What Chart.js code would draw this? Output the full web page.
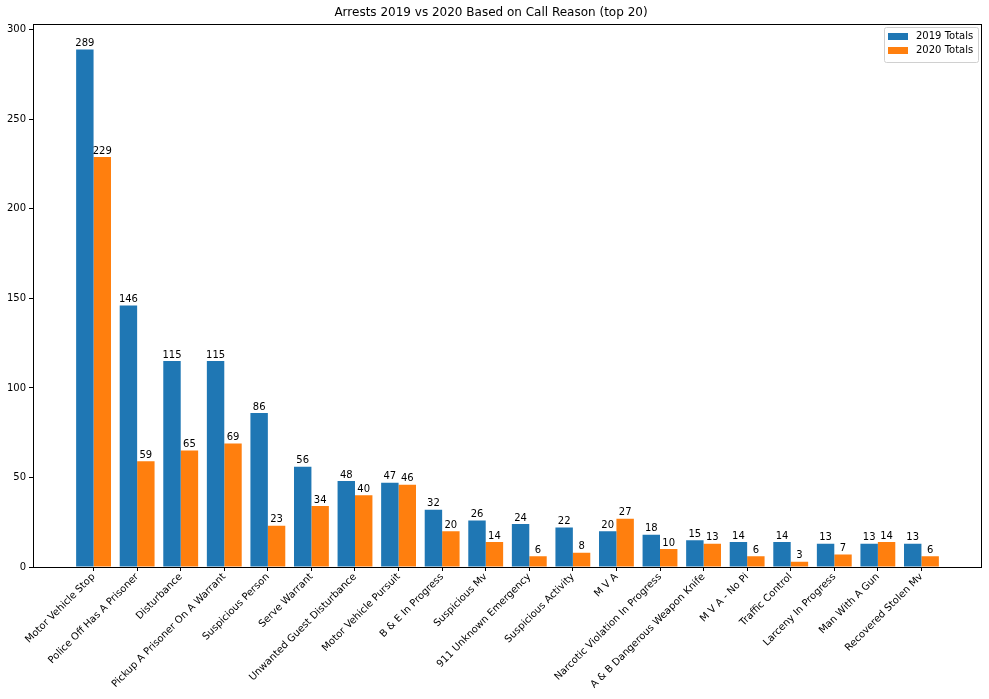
<!DOCTYPE html>
<html>
<head>
<meta charset="utf-8">
<script src="https://cdn.jsdelivr.net/npm/chart.js@4/dist/chart.umd.min.js"></script>
<style>
  html, body { margin: 0; padding: 0; background: #fff; }
  #wrap { width: 989px; height: 699px; }
</style>
</head>
<body>
<div id="wrap"><canvas id="arrestsChart"></canvas></div>
<script>
// datos del grafico
var reasons = ['Motor Vehicle Stop', 'Police Off Has A Prisoner', 'Disturbance', 'Pickup A Prisoner On A Warrant',
  'Suspicious Person', 'Serve Warrant', 'Unwanted Guest Disturbance', 'Motor Vehicle Pursuit', 'B & E In Progress',
  'Suspicious Mv', '911 Unknown Emergency', 'Suspicious Activity', 'M V A', 'Narcotic Violation In Progress',
  'A & B Dangerous Weapon Knife', 'M V A - No Pi', 'Traffic Control', 'Larceny In Progress', 'Man With A Gun',
  'Recovered Stolen Mv'];
var totals2019 = [289, 146, 115, 115, 86, 56, 48, 47, 32, 26, 24, 22, 20, 18, 15, 14, 14, 13, 13, 13];
var totals2020 = [229, 59, 65, 69, 23, 34, 40, 46, 20, 14, 6, 8, 27, 10, 13, 6, 3, 7, 14, 6];
var yTicks = [0, 50, 100, 150, 200, 250, 300];

var FONT = "'DejaVu Sans', sans-serif";

document.addEventListener("DOMContentLoaded", function () {
    var ctx = document.getElementById('arrestsChart').getContext('2d');

    function toPoints(values) {
        return values.map(function (v, i) { return { x: i, y: v }; });
    }

    // numeros encima de cada barra, marco y leyenda
    var extras = {
        id: 'extras',
        afterDatasetsDraw: function (chart) {
            var c = chart.ctx;
            c.save();
            c.font = '10px ' + FONT;
            c.fillStyle = '#000';
            c.textAlign = 'center';
            c.textBaseline = 'bottom';
            chart.data.datasets.forEach(function (ds, di) {
                chart.getDatasetMeta(di).data.forEach(function (bar, i) {
                    c.fillText(String(ds.data[i].y), bar.x, bar.y - 1);
                });
            });
            c.restore();
        },
        afterDraw: function (chart) {
            var c = chart.ctx, a = chart.chartArea;
            c.save();
            // marco completo
            c.strokeStyle = '#000';
            c.lineWidth = 1;
            c.strokeRect(Math.round(a.left) + 0.5, Math.round(a.top) + 0.5,
                Math.round(a.right - a.left) - 1, Math.round(a.bottom - a.top));
            // leyenda
            var bx = 884, by = 27, bw = 94, bh = 35;
            c.fillStyle = 'rgba(255,255,255,0.8)';
            c.strokeStyle = '#d0d0d0';
            c.beginPath();
            c.roundRect(bx + 0.5, by + 0.5, bw, bh, 2);
            c.fill();
            c.stroke();
            c.font = '10px ' + FONT;
            c.textAlign = 'left';
            c.textBaseline = 'middle';
            chart.data.datasets.forEach(function (ds, di) {
                var yy = by + 9 + di * 14;
                c.fillStyle = ds.backgroundColor;
                c.fillRect(bx + 4, yy - 3, 20, 7);
                c.fillStyle = '#000';
                c.fillText(ds.label, bx + 32, yy + 0.5);
            });
            c.restore();
        }
    };

    new Chart(ctx, {
        type: 'bar',
        data: {
            datasets: [{
                label: '2019 Totals',
                data: toPoints(totals2019),
                backgroundColor: '#1f77b4',
                categoryPercentage: 0.8,
                barPercentage: 1.0
            }, {
                label: '2020 Totals',
                data: toPoints(totals2020),
                backgroundColor: '#ff7f0e',
                categoryPercentage: 0.8,
                barPercentage: 1.0
            }]
        },
        options: {
            responsive: true,
            maintainAspectRatio: false,
            animation: false,
            layout: { padding: { left: 0, right: 7, top: 0, bottom: 0 } },
            plugins: {
                legend: { display: false },
                tooltip: { enabled: false },
                title: {
                    display: true,
                    text: 'Arrests 2019 vs 2020 Based on Call Reason (top 20)',
                    color: '#000',
                    font: { family: FONT, size: 12, weight: 'normal' },
                    padding: { top: 6, bottom: 3.2 }
                }
            },
            scales: {
                x: {
                    type: 'linear',
                    min: -1.39,
                    max: 20.39,
                    offset: false,
                    grid: { display: true, offset: false, drawOnChartArea: false, tickLength: 4, tickColor: '#000' },
                    border: { display: false },
                    afterBuildTicks: function (axis) {
                        axis.ticks = reasons.map(function (r, i) { return { value: i }; });
                    },
                    afterFit: function (scale) {
                        scale.height = 132;
                        scale.paddingLeft = 0;
                        scale.paddingRight = 0;
                    },
                    ticks: {
                        autoSkip: false,
                        includeBounds: false,
                        maxRotation: 45,
                        minRotation: 45,
                        padding: 0,
                        color: '#000',
                        font: { family: FONT, size: 10 },
                        callback: function (value) { return reasons[value]; }
                    }
                },
                y: {
                    min: 0,
                    max: 303.45,
                    grid: { display: true, drawOnChartArea: false, tickLength: 4, tickColor: '#000' },
                    border: { display: false },
                    afterBuildTicks: function (axis) {
                        axis.ticks = yTicks.map(function (v) { return { value: v }; });
                    },
                    afterFit: function (scale) {
                        scale.width = 33;
                        scale.paddingTop = 0;
                        scale.paddingBottom = 0;
                    },
                    ticks: {
                        padding: 3,
                        color: '#000',
                        font: { family: FONT, size: 10 }
                    }
                }
            }
        },
        plugins: [extras]
    });
});
</script>
</body>
</html>
